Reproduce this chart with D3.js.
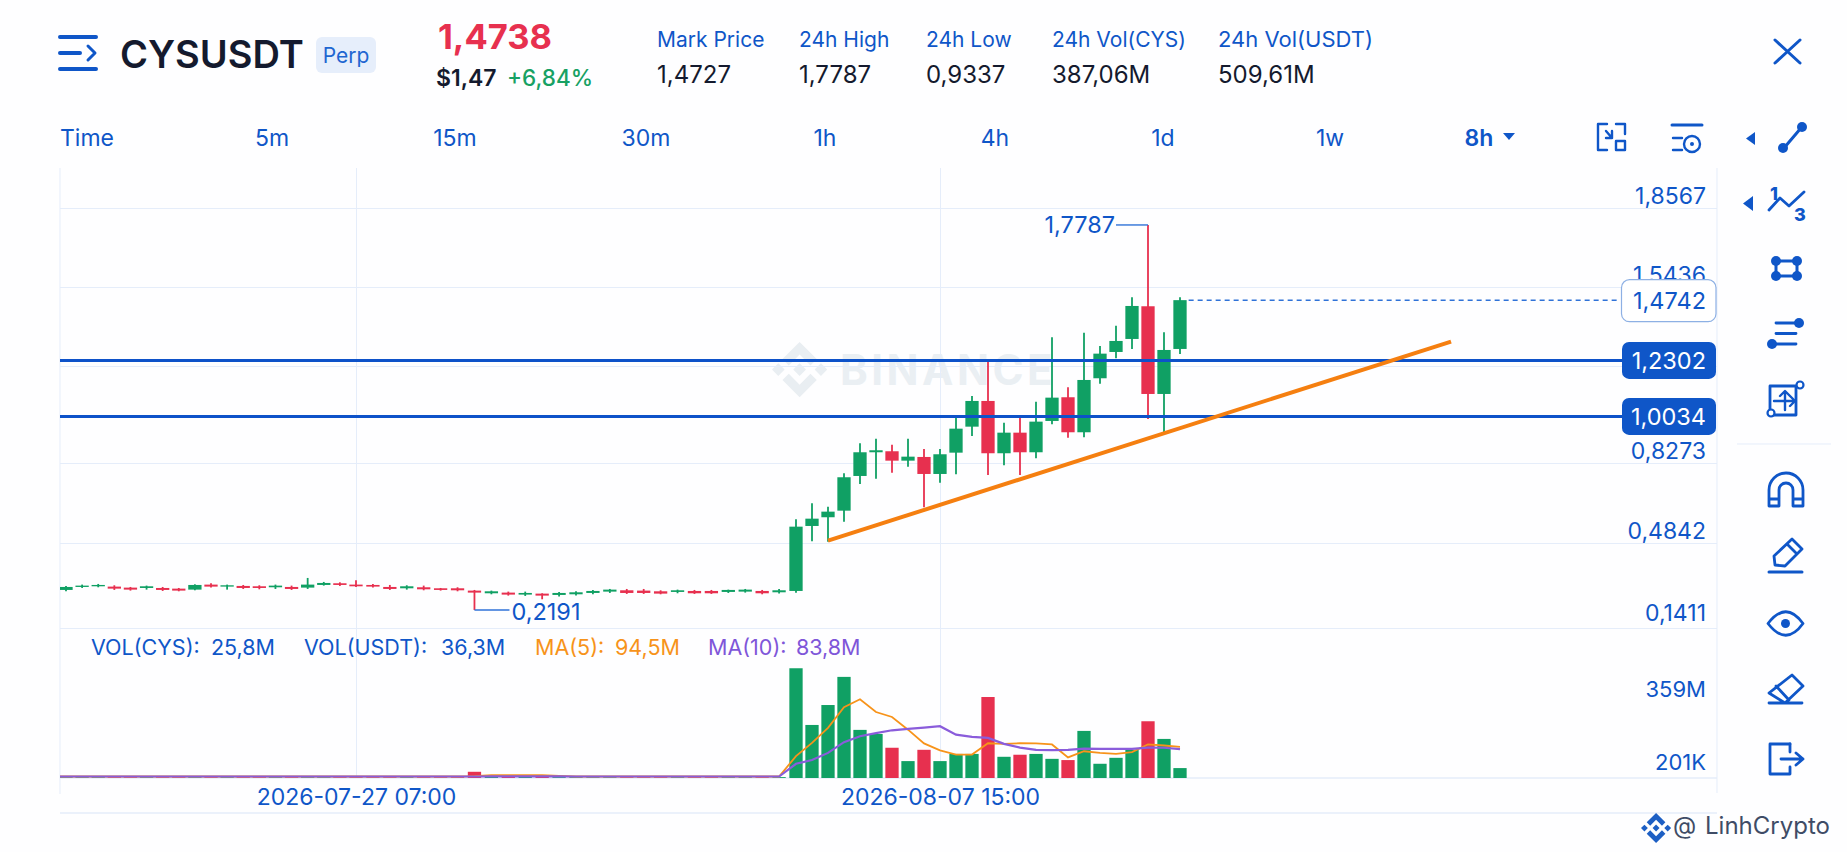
<!DOCTYPE html>
<html>
<head>
<meta charset="utf-8">
<script src="https://cdn.jsdelivr.net/npm/d3@7"></script>
<style>
  html, body { margin: 0; padding: 0; background: #fff; }
  svg { display: block; font-family: Inter, "Noto Sans", sans-serif; }
  .grid line { stroke: #e5edfa; stroke-width: 1; }
</style>
</head>
<body>
<div id="chart"></div>
<script>
// candles, 8h bars, first one is cut by the left edge
var candleOpen = [
  .3005,.3126,.3153,.3140,.3099,.3085,.3085,.3058,.3018,.3221,.3140,.3167,.3153,.3113,.3126,.3099,.3207,.3275,.3221,.3207,.3126,.3072,
  .3113,.3072,.3072,.2978,.2870,.2897,.2816,.2856,.2802,.2829,.2883,.2937,.2991,.2978,.2950,.2924,.2964,.2964,.2924,.2937,.2964,.2910,
  .2964,.5596,.5949,.6216,.7621,.8581,.8622,.8241,.8391,.7702,.8565,.9618,1.0659,.8541,.9375,.8581,.9849,1.0809,.9391,1.1578,1.2643,1.3170,1.4494,1.0942,1.2765
];
var candleHigh = [
  .3167,.3221,.3248,.3194,.3126,.3180,.3126,.3085,.3234,.3275,.3221,.3207,.3194,.3221,.3180,.3491,.3329,.3315,.3396,.3248,.3207,.3194,
  .3180,.3085,.3113,.3005,.2978,.2937,.2937,.2870,.2924,.2950,.3005,.3045,.3045,.3045,.2991,.3018,.3005,.3005,.3018,.3045,.3005,.3045,
  .5868,.6516,.6378,.7731,.8946,.9132,.8889,.9132,.8715,.8715,1.0023,1.0861,1.2251,.9780,1.0023,1.0631,1.3239,1.1214,1.3425,1.2886,1.3709,1.4859,1.7787,1.3441,1.4859
];
var candleLow = [
  .2950,.3085,.3113,.3005,.2978,.3018,.2964,.2950,.2991,.3099,.3018,.3045,.3031,.3045,.3005,.3045,.3180,.3167,.3126,.3099,.3005,.3018,
  .2991,.2978,.2950,.2191,.2829,.2775,.2762,.2627,.2735,.2775,.2829,.2883,.2843,.2843,.2829,.2870,.2843,.2843,.2883,.2897,.2829,.2856,
  .2895,.4977,.4961,.5771,.7297,.7512,.7755,.7998,.6354,.7350,.7690,.9241,.7662,.8055,.7662,.8338,.9715,.9173,.9189,1.1360,1.2388,1.2765,.9930,.9375,1.2562
];
var candleClose = [
  .3126,.3180,.3207,.3058,.3018,.3153,.3005,.2978,.3207,.3140,.3194,.3085,.3085,.3180,.3045,.3221,.3288,.3207,.3153,.3140,.3045,.3153,
  .3031,.3005,.2991,.2897,.2950,.2816,.2883,.2775,.2883,.2910,.2964,.3018,.2883,.2883,.2856,.2991,.2870,.2870,.3005,.3018,.2870,.2991,
  .5568,.5892,.6176,.7569,.8581,.8662,.8241,.8403,.7702,.8500,.9537,1.0659,.8541,.9375,.8581,.9821,1.0793,.9391,1.1509,1.2575,1.3089,1.4506,1.0942,1.2724,1.4742
];

// volume per bar, millions
var volume = [
  3,3,3,3,3,3,3,3,3,3,3,3,3,3,3,3,3,3,3,3,3,3,3,3,3,29,12,12,12,12,3,3,3,3,3,3,3,3,3,3,3,3,3,3,
  533,257,354,491,233,213,146,81,136,81,116,116,393,102,112,116,92,86,228,68,97,136,275,189,47
];
// the moving averages start one bar before the left edge
var ma5 = [
  6,6,6,6,6,6,6,6,6,6,6,6,6,6,6,6,6,6,6,6,6,6,6,6,6,6,8,13,13,13,13,9,6,6,6,6,6,6,6,6,6,6,6,6,6,
  105,170,243,343,382,320,296,234,167,133,113,113,168,165,168,167,162,99,129,121,116,125,162,157,150
];
var ma10 = [
  6,6,6,6,6,6,6,6,6,6,6,6,6,6,6,6,6,6,6,6,6,6,6,6,6,6,6,7,7,7,7,7,6,6,6,6,6,6,6,6,6,6,6,6,6,
  68,86,121,173,202,217,231,238,244,251,210,199,194,165,147,136,134,136,142,141,141,141,147,146,139
];

var priceTicks = [ 1.8567, 1.5436, 1.2005, .8273, .4842, .1411 ];
var hiddenPriceTick = 1.2005;
var volumeTicks = [ 359, .201 ];
var timeTicks = [ 18, 53 ];
var timeLabels = [ '2026-07-27 07:00', '2026-08-07 15:00' ];
var hLevels = [ 1.2302, 1.0034 ];
var lastPrice = 1.4742;
var trendIndex = [ 46, 84.94 ];
var trendPrice = [ .5001, 1.3065 ];

var intervals = [ 'Time', '5m', '15m', '30m', '1h', '4h', '1d', '1w' ];
var statNames = [ 'Mark Price', '24h High', '24h Low', '24h Vol(CYS)', '24h Vol(USDT)' ];
var statValues = [ '1,4727', '1,7787', '0,9337', '387,06M', '509,61M' ];

var BLUE = '#0f56c8',
    GREEN = '#10a064',
    RED = '#e7304f',
    DARK = '#141a2e',
    ORANGE = '#f57f10',
    PURPLE = '#8a5cdb';

var BINANCE_LOGO = 'M38.171 53.203 62.759 28.616l24.6 24.6 14.307-14.307L62.759 0 23.864 38.896zM0 62.759l14.307-14.307 14.306 14.307-14.306 14.307zM38.171 72.317l24.588 24.588 24.6-24.6 14.314 14.3L62.759 125.51 23.864 86.614l-.02-.02zM96.905 62.766l14.307-14.307 14.299 14.3-14.306 14.306zM77.267 62.759 62.759 48.25 48.254 62.756l14.505 14.505z';

var width = 1847,
    height = 852,
    plot = { left: 60, right: 1717, top: 168, priceBottom: 628, volBottom: 778, bottom: 813 };

var svg = d3.select( '#chart' ).append( 'svg' )
    .attr( 'width', width )
    .attr( 'height', height );

svg.append( 'rect' ).attr( 'width', width ).attr( 'height', height ).attr( 'fill', '#fefeff' );

svg.append( 'defs' ).append( 'clipPath' ).attr( 'id', 'plotClip' )
  .append( 'rect' )
    .attr( 'x', plot.left )
    .attr( 'y', plot.top )
    .attr( 'width', plot.right - plot.left )
    .attr( 'height', plot.volBottom - plot.top + 1 );

// bar spacing is not quite even in the screenshot
var x = d3.scaleLinear().domain( [ 0, 18, 44, 68 ] ).range( [ 66, 356, 796, 1180 ] );
var y = d3.scaleLinear().domain( [ .1411, 1.8567 ] ).range( [ 629.3, 205.7 ] );
// gridlines are spaced differently from the candles
var yGrid = d3.scaleLinear().domain( priceTicks ).range( [ 208, 287, 366, 463, 543, 628 ] );
var yVol = d3.scaleLinear().domain( [ .201, 359 ] ).range( [ 777.7, 704 ] );

var commaLocale = d3.formatLocale( { decimal: ',', thousands: '.', grouping: [ 3 ], currency: [ '$', '' ] } );
var fmtPrice = commaLocale.format( '.4f' );

function label( parent, txt, px, py, opts ) {
  opts = opts || {};
  return parent.append( 'text' )
    .attr( 'x', px )
    .attr( 'y', py )
    .attr( 'text-anchor', opts.anchor || 'start' )
    .attr( 'font-size', opts.size || 21.5 )
    .attr( 'font-weight', opts.weight || 400 )
    .attr( 'fill', opts.fill || BLUE )
    .text( txt );
}

// ---- watermark under the grid
svg.append( 'path' ).attr( 'd', BINANCE_LOGO )
    .attr( 'transform', 'translate(772,342) scale(.44)' )
    .attr( 'fill', '#e9eef2' );
label( svg, 'BINANCE', 840, 385, { size: 42, weight: 700, fill: '#eaeff3' } ).attr( 'letter-spacing', 3.5 );

// ---- axes
var priceAxis = svg.append( 'g' )
    .attr( 'class', 'grid' )
    .attr( 'transform', 'translate(' + plot.right + ',0)' )
    .call( d3.axisRight( yGrid )
      .tickValues( priceTicks )
      .tickSize( -( plot.right - plot.left ) )
      .tickFormat( function( d ) { return d === hiddenPriceTick ? '' : fmtPrice( d ); } ) );
priceAxis.select( '.domain' ).remove();
priceAxis.selectAll( 'text' )
    .attr( 'x', -11 )
    .attr( 'dy', function( d ) { return d === .1411 ? -8 : -5; } )
    .attr( 'text-anchor', 'end' )
    .attr( 'font-size', 23 )
    .attr( 'font-family', 'Inter' )
    .attr( 'fill', BLUE );

var timeAxis = svg.append( 'g' )
    .attr( 'class', 'grid' )
    .attr( 'transform', 'translate(0,' + plot.volBottom + ')' )
    .call( d3.axisBottom( x )
      .tickValues( timeTicks )
      .tickSize( -( plot.volBottom - plot.top ) )
      .tickFormat( function( d, i ) { return timeLabels[i]; } ) );
timeAxis.select( '.domain' ).remove();
timeAxis.selectAll( 'text' )
    .attr( 'y', 27 )
    .attr( 'dy', 0 )
    .attr( 'font-size', 23 )
    .attr( 'font-family', 'Inter' )
    .attr( 'fill', BLUE );

var volAxis = svg.append( 'g' )
    .attr( 'transform', 'translate(' + plot.right + ',0)' )
    .call( d3.axisRight( yVol )
      .tickValues( volumeTicks )
      .tickSize( 0 )
      .tickFormat( function( d ) { return d < 1 ? Math.round( d * 1000 ) + 'K' : d + 'M'; } ) );
volAxis.select( '.domain' ).remove();
volAxis.selectAll( 'text' )
    .attr( 'x', -11 )
    .attr( 'dy', -8 )
    .attr( 'text-anchor', 'end' )
    .attr( 'font-size', 22 )
    .attr( 'font-family', 'Inter' )
    .attr( 'fill', BLUE );

// frame
var frame = svg.append( 'g' ).attr( 'class', 'grid' );
frame.append( 'line' ).attr( 'x1', plot.left ).attr( 'x2', plot.left ).attr( 'y1', plot.top ).attr( 'y2', 794 );
frame.append( 'line' ).attr( 'x1', plot.right ).attr( 'x2', plot.right ).attr( 'y1', plot.top ).attr( 'y2', 793 );
frame.append( 'line' ).attr( 'x1', plot.left ).attr( 'x2', plot.right ).attr( 'y1', plot.volBottom ).attr( 'y2', plot.volBottom ).style( 'stroke-width', 1.5 );
frame.append( 'line' ).attr( 'x1', plot.left ).attr( 'x2', plot.right ).attr( 'y1', plot.bottom ).attr( 'y2', plot.bottom ).style( 'stroke-width', 1.5 );

// ---- candles and volume
var chart = svg.append( 'g' ).attr( 'clip-path', 'url(#plotClip)' );
var bars = d3.range( candleOpen.length );
var barWidth = 13.3;

function barColor( i ) { return candleClose[i] >= candleOpen[i] ? GREEN : RED; }

chart.selectAll( '.vol' ).data( bars ).enter().append( 'rect' )
    .attr( 'class', 'vol' )
    .attr( 'x', function( i ) { return x( i ) - barWidth / 2; } )
    .attr( 'width', barWidth )
    .attr( 'y', function( i ) { return yVol( volume[i] ); } )
    .attr( 'height', function( i ) { return plot.volBottom - yVol( volume[i] ); } )
    .attr( 'fill', barColor );

chart.selectAll( '.wick' ).data( bars ).enter().append( 'line' )
    .attr( 'class', 'wick' )
    .attr( 'x1', function( i ) { return x( i ); } )
    .attr( 'x2', function( i ) { return x( i ); } )
    .attr( 'y1', function( i ) { return y( candleHigh[i] ); } )
    .attr( 'y2', function( i ) { return y( candleLow[i] ); } )
    .attr( 'stroke', barColor )
    .attr( 'stroke-width', 1.8 );

chart.selectAll( '.body' ).data( bars ).enter().append( 'rect' )
    .attr( 'class', 'body' )
    .attr( 'x', function( i ) { return x( i ) - barWidth / 2; } )
    .attr( 'width', barWidth )
    .attr( 'y', function( i ) { return y( Math.max( candleOpen[i], candleClose[i] ) ); } )
    .attr( 'height', function( i ) { return Math.abs( y( candleOpen[i] ) - y( candleClose[i] ) ); } )
    .attr( 'fill', barColor );

var maLine = d3.line()
    .x( function( d, i ) { return x( i - 1 ); } )
    .y( function( d ) { return yVol( d ); } );

chart.append( 'path' ).attr( 'd', maLine( ma5 ) )
    .attr( 'fill', 'none' ).attr( 'stroke', '#f7931a' ).attr( 'stroke-width', 1.8 );
chart.append( 'path' ).attr( 'd', maLine( ma10 ) )
    .attr( 'fill', 'none' ).attr( 'stroke', PURPLE ).attr( 'stroke-width', 2.2 );

// ---- drawn levels
hLevels.forEach( function( v ) {
  svg.append( 'line' )
    .attr( 'x1', plot.left ).attr( 'x2', 1625 )
    .attr( 'y1', y( v ) ).attr( 'y2', y( v ) )
    .attr( 'stroke', '#0d52c9' ).attr( 'stroke-width', 3 );
  svg.append( 'rect' )
    .attr( 'x', 1622 ).attr( 'y', y( v ) - 18.5 )
    .attr( 'width', 94 ).attr( 'height', 37 ).attr( 'rx', 7 )
    .attr( 'fill', BLUE );
  label( svg, fmtPrice( v ), 1706, y( v ) + 8.5, { anchor: 'end', fill: '#fff', size: 23.5 } );
} );

svg.append( 'line' )
    .attr( 'x1', x( trendIndex[0] ) ).attr( 'x2', x( trendIndex[1] ) )
    .attr( 'y1', y( trendPrice[0] ) ).attr( 'y2', y( trendPrice[1] ) )
    .attr( 'stroke', ORANGE ).attr( 'stroke-width', 4 );

// last price
var lastBar = bars.length - 1;
svg.append( 'line' )
    .attr( 'x1', x( lastBar ) + barWidth / 2 + 2 ).attr( 'x2', 1618 )
    .attr( 'y1', y( lastPrice ) ).attr( 'y2', y( lastPrice ) )
    .attr( 'stroke', '#2f72d8' ).attr( 'stroke-width', 1.5 ).attr( 'stroke-dasharray', '5,4' );
svg.append( 'rect' )
    .attr( 'x', 1621.5 ).attr( 'y', y( lastPrice ) - 20.5 )
    .attr( 'width', 94.5 ).attr( 'height', 42 ).attr( 'rx', 8 )
    .attr( 'fill', '#fff' ).attr( 'stroke', '#8db0e4' ).attr( 'stroke-width', 1.2 );
label( svg, fmtPrice( lastPrice ), 1706, y( lastPrice ) + 8.5, { anchor: 'end', size: 23.5 } );

// high / low callouts
var hi = d3.maxIndex( candleHigh ), lo = d3.minIndex( candleLow );
svg.append( 'line' ).attr( 'x1', x( hi ) - 32 ).attr( 'x2', x( hi ) )
    .attr( 'y1', y( candleHigh[hi] ) ).attr( 'y2', y( candleHigh[hi] ) )
    .attr( 'stroke', '#2f72d8' ).attr( 'stroke-width', 1.4 );
label( svg, fmtPrice( candleHigh[hi] ), x( hi ) - 33, y( candleHigh[hi] ) + 8.5, { anchor: 'end', size: 23.5 } );
svg.append( 'line' ).attr( 'x1', x( lo ) ).attr( 'x2', x( lo ) + 35 )
    .attr( 'y1', y( candleLow[lo] ) ).attr( 'y2', y( candleLow[lo] ) )
    .attr( 'stroke', '#2f72d8' ).attr( 'stroke-width', 1.4 );
label( svg, fmtPrice( candleLow[lo] ), x( lo ) + 37, y( candleLow[lo] ) + 10, { size: 23.5 } );

// ---- volume legend
label( svg, 'VOL(CYS):', 91, 655 );
label( svg, '25,8M', 211, 655 );
label( svg, 'VOL(USDT):', 304, 655 );
label( svg, '36,3M', 441, 655 );
label( svg, 'MA(5):', 535, 655, { fill: '#f7931a' } );
label( svg, '94,5M', 615, 655, { fill: '#f7931a' } );
label( svg, 'MA(10):', 708, 655, { fill: '#7f56d9' } );
label( svg, '83,8M', 796, 655, { fill: '#7f56d9' } );

// ---- header
label( svg, 'CYSUSDT', 120, 68, { size: 38, weight: 600, fill: DARK } );
svg.append( 'rect' ).attr( 'x', 316 ).attr( 'y', 37 ).attr( 'width', 60 ).attr( 'height', 36 ).attr( 'rx', 6 ).attr( 'fill', '#e6eefb' );
label( svg, 'Perp', 346, 63, { anchor: 'middle', size: 21, fill: '#1f66d1' } );
label( svg, '1,4738', 438, 49, { size: 34.5, weight: 700, fill: RED } );
label( svg, '$1,47', 436, 86, { size: 23, weight: 600, fill: DARK } );
label( svg, '+6,84%', 507, 86, { size: 22.5, weight: 500, fill: '#17a163' } );

var statX = [ 657, 799, 926, 1052, 1218 ];
statNames.forEach( function( s, i ) {
  label( svg, s, statX[i], 47, { size: i === 4 ? 22 : 21 } );
  label( svg, statValues[i], statX[i], 82.5, { size: 24, fill: DARK } );
} );

var intervalX = [ 87, 272, 455, 646, 825, 995, 1163, 1330 ];
intervals.forEach( function( s, i ) {
  label( svg, s, intervalX[i], 146, { anchor: 'middle', size: 23 } );
} );
label( svg, '8h', 1479, 146, { anchor: 'middle', size: 23, weight: 600 } );
svg.append( 'path' ).attr( 'd', 'M1503 133 H1515 L1509 140 Z' ).attr( 'fill', BLUE );

// ---- icons
function stroke( d, w ) {
  return svg.append( 'path' ).attr( 'd', d )
    .attr( 'fill', 'none' ).attr( 'stroke', BLUE ).attr( 'stroke-width', w || 2.8 )
    .attr( 'stroke-linecap', 'round' ).attr( 'stroke-linejoin', 'round' );
}
function dot( cx, cy, r, filled ) {
  return svg.append( 'circle' ).attr( 'cx', cx ).attr( 'cy', cy ).attr( 'r', r )
    .attr( 'fill', filled === false ? '#fff' : BLUE )
    .attr( 'stroke', BLUE ).attr( 'stroke-width', filled === false ? 2.2 : 0 );
}
function fillPath( d ) {
  return svg.append( 'path' ).attr( 'd', d ).attr( 'fill', BLUE );
}

stroke( 'M60 37 H96 M60 69 H96 M60 53 H80', 4 );
stroke( 'M88 46 L95 53 L88 60', 3 );
stroke( 'M1775 40 L1800 63 M1800 40 L1775 63', 3 );

stroke( 'M1607 124 H1598 V150 H1607 M1616 124 H1625 V134', 2.4 );
stroke( 'M1616 141 H1625 V150 H1616 Z M1606 131 L1612 138 M1612 131 V138 H1606', 2.4 );
stroke( 'M1672 125 H1702', 3 );
stroke( 'M1673 138 H1682 M1673 150 H1682', 2.4 );
stroke( 'M1700 144 A8 8 0 1 1 1684 144 A8 8 0 1 1 1700 144', 2.4 );
dot( 1692, 144, 2 );

fillPath( 'M1746 138.5 L1755 132 V145 Z' );
stroke( 'M1784 148 L1801 128', 3 );
dot( 1783, 148, 5 );
dot( 1802, 127, 5 );

fillPath( 'M1743 203.5 L1753 196 V211 Z' );
stroke( 'M1769 210 L1780 198 L1789 206 L1804 192', 2.8 );
label( svg, '1', 1770, 200, { size: 18, weight: 800 } );
label( svg, '3', 1794, 221, { size: 18, weight: 800 } );

stroke( 'M1776 261 H1797 V276 H1776 Z', 3 );
dot( 1776, 261, 5 ); dot( 1797, 261, 5 ); dot( 1776, 276, 5 ); dot( 1797, 276, 5 );

stroke( 'M1776 323 H1796 M1776 333.5 H1796 M1776 344 H1796', 2.8 );
dot( 1799, 323, 5 );
dot( 1772, 344, 5 );

stroke( 'M1770 386 H1796 V415 H1770 Z', 2.8 );
dot( 1800, 385, 3.5, false );
dot( 1771, 413, 3.5, false );
stroke( 'M1785 392 V410 M1774 401 H1794 M1780 396 L1785 391 L1790 396 M1790 396 L1795 401 L1790 406', 2.4 );

svg.append( 'line' ).attr( 'x1', 1737 ).attr( 'x2', 1831 ).attr( 'y1', 444 ).attr( 'y2', 444 ).attr( 'stroke', '#e5edfa' );

stroke( 'M1769 506 V490 A17 17 0 0 1 1803 490 V506 H1793 V490 A7 7 0 0 0 1779 490 V506 Z M1769 499 H1779 M1793 499 H1803', 2.8 );

stroke( 'M1769 572 H1802', 3 );
stroke( 'M1775 565 L1774 556 L1792 539 L1802 549 L1785 566 Z M1787 544 L1797 554', 2.8 );

stroke( 'M1768 623.5 Q1786 600 1803 623.5 Q1786 647 1768 623.5 Z', 2.8 );
dot( 1785.5, 623.5, 4.5 );

stroke( 'M1769 703 H1802 M1769 693 L1792 675 L1803 686 L1785 703 L1769 693 M1776 686 L1789 700', 2.8 );

stroke( 'M1790 744 H1770 V774 H1790 V767', 2.8 );
stroke( 'M1790 744 V752 M1781 759 H1803 M1796 753 L1803 759 L1796 765', 2.8 );

// ---- source credit, bottom right
var credit = svg.append( 'g' );
credit.append( 'path' ).attr( 'd', BINANCE_LOGO )
    .attr( 'transform', 'translate(1641,813) scale(.24)' )
    .attr( 'fill', '#1d5fc4' );
label( credit, '@', 1673, 834, { size: 24, fill: '#3f4c66' } );
label( credit, 'LinhCrypto', 1705, 834, { size: 24, fill: '#3f4c66' } );
</script>
</body>
</html>
